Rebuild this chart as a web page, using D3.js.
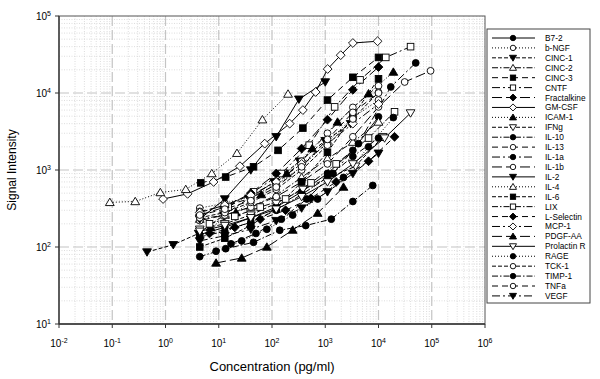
<!DOCTYPE html>
<html><head><meta charset="utf-8">
<script src="https://cdn.jsdelivr.net/npm/d3@7/dist/d3.min.js"></script>
<style>body{margin:0;background:#fff} text{font-family:"Liberation Sans",Arial,sans-serif;fill:#000}</style>
</head><body><svg id="chart" width="600" height="379"></svg>
<script>
// ---------------- data ----------------
const seriesNames = ["B7-2","b-NGF","CINC-1","CINC-2","CINC-3","CNTF","Fractalkine","GM-CSF","ICAM-1","IFNg","IL-10","IL-13","IL-1a","IL-1b","IL-2","IL-4","IL-6","LIX","L-Selectin","MCP-1","PDGF-AA","Prolactin R","RAGE","TCK-1","TIMP-1","TNFa","VEGF"];

const concB7_2 = [4.4,13,40,120,360,1100,3300,10000];
const sigB7_2  = [145,180,240,330,520,900,1800,4900];
const concBNGF = [4.4,13,40,120,360,1100,3300,10000];
const sigBNGF  = [320,370,450,640,1100,2300,4800,8100];
const concCINC1 = [0.45,1.4,4.2,12.5,37,110,330,1000,3000];
const sigCINC1  = [86,107,150,260,430,700,1300,2400,4000];
const concCINC2 = [4.4,13,40,120,360,1100,3300,10000];
const sigCINC2  = [230,260,330,470,800,1400,2300,4200];
const concCINC3 = [4.6,13.5,45,130,380,1100,3300,10000];
const sigCINC3  = [680,810,1100,1800,3500,8100,16000,29000];
const concCNTF = [15,45,150,500,1500,4500,13700,40000];
const sigCNTF  = [330,520,900,2100,6600,14800,29000,40000];
const concFractalkine = [4.4,13,40,120,360,1100,3300,10000];
const sigFractalkine  = [260,330,500,900,1900,4500,11000,21700];
const concGMCSF = [0.9,2.6,8,25,73,215,380,660,1110,1950,3300,9600];
const sigGMCSF  = [420,490,700,1120,2200,4000,6000,10300,20500,31000,44600,47000];
const concICAM1 = [7,21,63,190,570,1700,6500,19000];
const sigICAM1  = [180,280,480,900,1900,4200,9800,18700];
const concIFNg = [4.4,13,40,120,380,1200,3700,12000];
const sigIFNg  = [170,200,260,370,560,800,1120,2700];
const concIL10 = [4.4,13,40,120,360,1100,3300,10000];
const sigIL10  = [135,160,210,300,480,800,1500,2600];
const concIL13 = [4.4,13,40,120,360,1100,3300,10000];
const sigIL13  = [290,340,430,650,1300,3000,6500,12400];
const concIL1a = [17,50,150,450,1400,4200,17000,50000];
const sigIL1a  = [110,150,230,420,900,2200,12000,24600];
const concIL1b = [4.4,13,40,120,360,1100,3300,10000,31000,95000];
const sigIL1b  = [220,260,330,450,700,1200,2700,6600,13900,19400];
const concIL2 = [4.4,13,40,120,320,1000];
const sigIL2  = [230,420,1000,2700,8300,13900];
const concIL4 = [0.09,0.27,0.8,2.4,7.4,22,66,200];
const sigIL4  = [380,390,510,560,900,1650,4500,9700];
const concIL6 = [4.4,13,40,120,360,1100,3300,10000];
const sigIL6  = [100,130,190,320,700,1700,5000,15300];
const concLIX = [6.7,20,60,180,540,1600,6500,20000];
const sigLIX  = [200,250,330,420,680,1200,2600,5700];
const concLSelectin = [6.7,20,60,180,540,1600,6500,20000];
const sigLSelectin  = [150,180,230,300,430,700,1300,2700];
const concMCP1 = [4.4,13,40,120,360,1100,3300,10000];
const sigMCP1  = [280,350,470,700,1200,2200,4000,7200];
const concPDGFAA = [8.9,27,80,245,720,2200];
const sigPDGFAA  = [62,72,100,166,275,600];
const concProlactinR = [4.4,13,40,120,360,1100,3300,13000,40000];
const sigProlactinR  = [160,190,240,310,450,700,1200,2600,5500];
const concRAGE = [8.9,27,80,245,720,2200,6500,19000];
const sigRAGE  = [88,120,170,260,420,800,2000,4800];
const concTCK1 = [4.4,13,40,120,360,1100,3300,10000];
const sigTCK1  = [240,280,380,560,1000,2100,4600,10200];
const concTIMP1 = [4.4,13.5,45,140,430,1300,3300,7800];
const sigTIMP1  = [75,95,115,165,190,230,390,630];
const concTNFa = [4.4,13,40,120,360,1100,3300,10000];
const sigTNFa  = [260,310,400,600,1100,2500,5600,10000];
const concVEGF = [4.4,13,40,120,360,1100,3300,10000];
const sigVEGF  = [120,140,170,220,320,520,900,1650];

const concentrations = [concB7_2,concBNGF,concCINC1,concCINC2,concCINC3,concCNTF,concFractalkine,concGMCSF,concICAM1,concIFNg,concIL10,concIL13,concIL1a,concIL1b,concIL2,concIL4,concIL6,concLIX,concLSelectin,concMCP1,concPDGFAA,concProlactinR,concRAGE,concTCK1,concTIMP1,concTNFa,concVEGF];
const signals = [sigB7_2,sigBNGF,sigCINC1,sigCINC2,sigCINC3,sigCNTF,sigFractalkine,sigGMCSF,sigICAM1,sigIFNg,sigIL10,sigIL13,sigIL1a,sigIL1b,sigIL2,sigIL4,sigIL6,sigLIX,sigLSelectin,sigMCP1,sigPDGFAA,sigProlactinR,sigRAGE,sigTCK1,sigTIMP1,sigTNFa,sigVEGF];

const xTickExps = [-2,-1,0,1,2,3,4,5,6];
const yTickExps = [1,2,3,4,5];

// ---------------- styles ----------------
const dashCycle = [null,"1,2","4,2","6,2,1.5,2","6,4","8,3,2,3","10,4"];
const symbolList = [
 ["circle",1],["circle",0],["down",1],["up",0],["square",1],["square",0],["diamond",1],["diamond",0],["up",1],["down",0],
 ["circle",1],["circle",0],["circle",1],["circle",0],["down",1],["up",0],["square",1],["square",0],["diamond",1],["diamond",0],
 ["up",1],["down",0],["circle",1],["circle",0],["circle",1],["circle",0],["down",1]];

const svg = d3.select("#chart");
const L = 59, R = 485, T = 16, B = 324;
const x = d3.scaleLog().domain([1e-2,1e6]).range([L,R]);
const y = d3.scaleLog().domain([1e1,1e5]).range([B,T]);

// grid
const g = svg.append("g");
for (let e=-2;e<6;e++) for (let k=2;k<10;k++){
  const v=k*Math.pow(10,e);
  g.append("line").attr("x1",x(v)).attr("x2",x(v)).attr("y1",T).attr("y2",B)
   .attr("stroke","#d4d4d4").attr("stroke-width",0.8).attr("stroke-dasharray","1,1.5");
}
for (let e=1;e<5;e++) for (let k=2;k<10;k++){
  const v=k*Math.pow(10,e);
  g.append("line").attr("y1",y(v)).attr("y2",y(v)).attr("x1",L).attr("x2",R)
   .attr("stroke","#d4d4d4").attr("stroke-width",0.8).attr("stroke-dasharray","1,1.5");
}
xTickExps.slice(1,-1).forEach(e=>g.append("line").attr("x1",x(Math.pow(10,e))).attr("x2",x(Math.pow(10,e))).attr("y1",T).attr("y2",B)
  .attr("stroke","#c4c4c4").attr("stroke-width",1.2).attr("stroke-dasharray","10,4"));
yTickExps.slice(1,-1).forEach(e=>g.append("line").attr("y1",y(Math.pow(10,e))).attr("y2",y(Math.pow(10,e))).attr("x1",L).attr("x2",R)
  .attr("stroke","#c4c4c4").attr("stroke-width",1.2).attr("stroke-dasharray","10,4"));

function drawSymbol(sel, cx, cy, sym, s){
  s = s || 1;
  const [shape, filled] = sym;
  let p;
  if (shape==="circle") p = sel.append("circle").attr("cx",cx).attr("cy",cy).attr("r",3.4*s);
  else if (shape==="square") p = sel.append("rect").attr("x",cx-3.3*s).attr("y",cy-3.3*s).attr("width",6.6*s).attr("height",6.6*s);
  else if (shape==="diamond") p = sel.append("path").attr("d",`M${cx},${cy-4.4*s}L${cx+4.4*s},${cy}L${cx},${cy+4.4*s}L${cx-4.4*s},${cy}Z`);
  else if (shape==="up") p = sel.append("path").attr("d",`M${cx},${cy-4.2*s}L${cx+4.4*s},${cy+3.2*s}L${cx-4.4*s},${cy+3.2*s}Z`);
  else p = sel.append("path").attr("d",`M${cx},${cy+4.2*s}L${cx+4.4*s},${cy-3.2*s}L${cx-4.4*s},${cy-3.2*s}Z`);
  p.attr("fill", filled? "#000":"#fff").attr("stroke","#000").attr("stroke-width",0.9);
}

const line = d3.line().x(d=>x(d[0])).y(d=>y(d[1]));
const plot = svg.append("g");
seriesNames.forEach((name,i)=>{
  const pts = concentrations[i].map((c,j)=>[c,signals[i][j]]);
  plot.append("path").attr("d",line(pts)).attr("fill","none").attr("stroke","#000").attr("stroke-width",1)
    .attr("stroke-dasharray",dashCycle[i%7]);
});
seriesNames.forEach((name,i)=>{
  concentrations[i].forEach((c,j)=>drawSymbol(plot, x(c), y(signals[i][j]), symbolList[i]));
});

// frame & axes
svg.append("rect").attr("x",L).attr("y",T).attr("width",R-L).attr("height",B-T).attr("fill","none").attr("stroke","#555").attr("stroke-width",1);
svg.append("line").attr("x1",L).attr("x2",R).attr("y1",B).attr("y2",B).attr("stroke","#333").attr("stroke-width",1.3);
svg.append("line").attr("x1",L).attr("x2",L).attr("y1",T).attr("y2",B).attr("stroke","#333").attr("stroke-width",1.3);

xTickExps.forEach(e=>{
  const xv = x(Math.pow(10,e));
  svg.append("line").attr("x1",xv).attr("x2",xv).attr("y1",B).attr("y2",B+4).attr("stroke","#333");
  const t = svg.append("text").attr("x",xv).attr("y",347).attr("text-anchor","middle").attr("font-size",10);
  t.append("tspan").text("10");
  t.append("tspan").attr("dy",-4).attr("font-size",7).text(String(e));
});
yTickExps.forEach(e=>{
  const yv = y(Math.pow(10,e));
  svg.append("line").attr("x1",L-4).attr("x2",L).attr("y1",yv).attr("y2",yv).attr("stroke","#333");
  const t = svg.append("text").attr("x",51).attr("y",yv+4).attr("text-anchor","end").attr("font-size",10);
  t.append("tspan").text("10");
  t.append("tspan").attr("dy",-4).attr("font-size",7).text(String(e));
});

svg.append("text").attr("x",272).attr("y",371).attr("text-anchor","middle").attr("font-size",13).text("Concentration (pg/ml)");
svg.append("text").attr("transform","translate(16,170) rotate(-90)").attr("text-anchor","middle").attr("font-size",12).text("Signal Intensity");

// legend
const lg = svg.append("g");
lg.append("rect").attr("x",487).attr("y",29).attr("width",103).attr("height",274).attr("fill","#fff").attr("stroke","#444").attr("stroke-width",1);
seriesNames.forEach((name,i)=>{
  const ly = 38 + i*9.92;
  lg.append("line").attr("x1",492).attr("x2",535).attr("y1",ly).attr("y2",ly).attr("stroke","#000").attr("stroke-width",1)
    .attr("stroke-dasharray",dashCycle[i%7]);
  drawSymbol(lg, 513, ly, symbolList[i], 0.8);
  lg.append("text").attr("x",545).attr("y",ly+3).attr("font-size",8.3).text(name);
});
</script></body></html>
